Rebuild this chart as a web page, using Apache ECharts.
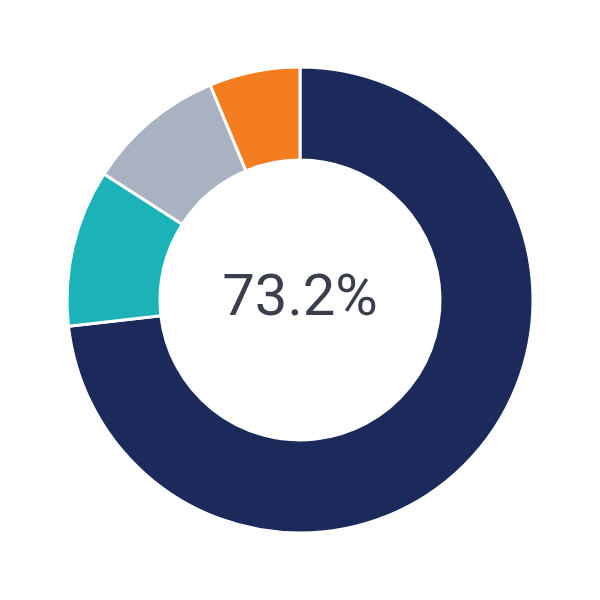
<!DOCTYPE html>
<html>
<head>
<meta charset="utf-8">
<script src="https://cdn.jsdelivr.net/npm/echarts@6/dist/echarts.min.js"></script>
<style>html,body{margin:0;padding:0;background:#fff}#c{width:600px;height:600px}</style>
</head>
<body>
<div id="c"></div>
<script>
const categories = ['A', 'B', 'C', 'D'];
const values = [73.2, 10.9, 9.6, 6.3];
const colors = ['#1b2a5b', '#1bb3b7', '#a8b2c0', '#f47d20'];
const centerLabel = '73.2%';

const chart = echarts.init(document.getElementById('c'));
chart.setOption({
  animation: false,
  title: {
    text: centerLabel,
    left: 'center',
    top: 'middle',
    textStyle: { fontFamily: 'Roboto', fontSize: 58, fontWeight: 'normal', color: '#3a3f4b' }
  },
  series: [{
    type: 'pie',
    center: ['50%', '50%'],
    radius: [140, 233],
    startAngle: 90,
    clockwise: true,
    label: { show: false },
    labelLine: { show: false },
    itemStyle: { borderColor: '#fff', borderWidth: 3 },
    data: categories.map((c, i) => ({ name: c, value: values[i], itemStyle: { color: colors[i] } }))
  }]
});
</script>
</body>
</html>
